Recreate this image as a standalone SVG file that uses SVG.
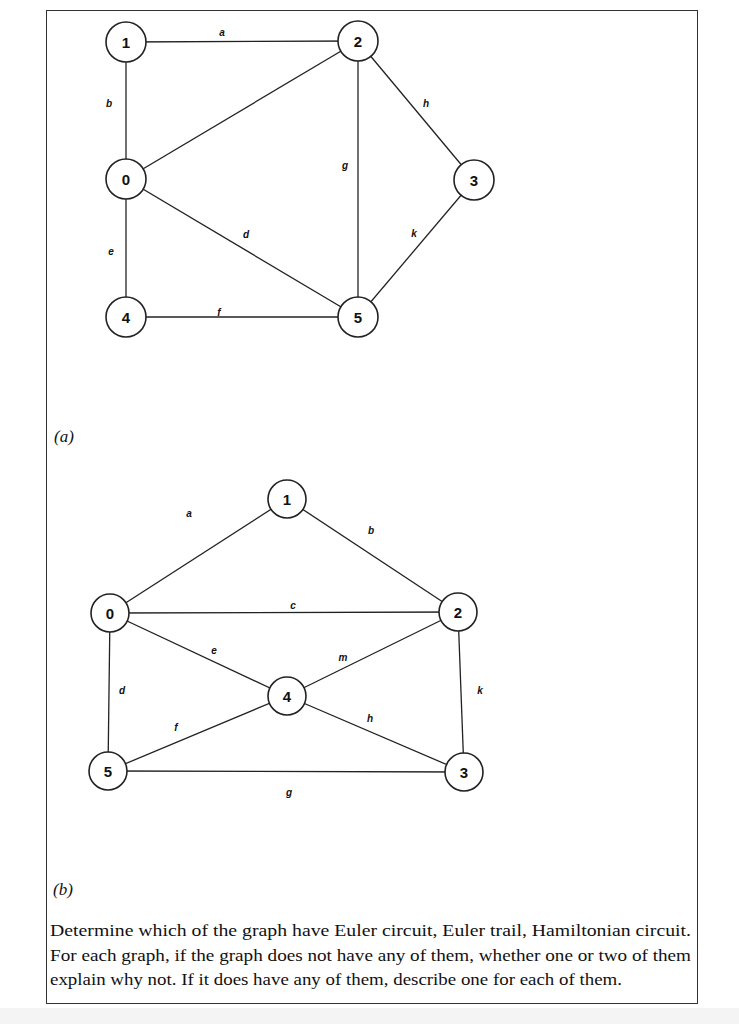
<svg xmlns="http://www.w3.org/2000/svg" width="739" height="1024" viewBox="0 0 739 1024">
<style>
.e{stroke:#222;stroke-width:1.3;fill:none}
.n circle{fill:#fff;stroke:#222;stroke-width:1.6}
.n text{font-family:"Liberation Sans",Arial,sans-serif;font-weight:bold;font-size:15px;text-anchor:middle;fill:#111}
.l{font-family:"Liberation Sans",Arial,sans-serif;font-weight:bold;font-style:italic;font-size:10px;text-anchor:middle;fill:#111}
.t{font-family:"Liberation Serif","Times New Roman",serif;font-size:17px;fill:#111}
</style>
<rect width="739" height="1024" fill="#fff"/>
<rect x="0" y="1008" width="739" height="16" fill="#f4f4f4"/>
<rect x="46.5" y="10.5" width="651" height="993" fill="none" stroke="#333" stroke-width="1"/>
<g id="connectors">
<line class="e" x1="126" y1="42" x2="358" y2="41"/>
<line class="e" x1="126" y1="42" x2="126" y2="179"/>
<line class="e" x1="126" y1="179" x2="358" y2="41"/>
<line class="e" x1="358" y1="41" x2="358" y2="317"/>
<line class="e" x1="358" y1="41" x2="474" y2="180"/>
<line class="e" x1="126" y1="179" x2="358" y2="317"/>
<line class="e" x1="126" y1="179" x2="126" y2="317"/>
<line class="e" x1="126" y1="317" x2="358" y2="317"/>
<line class="e" x1="474" y1="180" x2="358" y2="317"/>
<line class="e" x1="110" y1="613" x2="287" y2="499"/>
<line class="e" x1="287" y1="499" x2="458" y2="612"/>
<line class="e" x1="110" y1="613" x2="458" y2="612"/>
<line class="e" x1="110" y1="613" x2="287" y2="696"/>
<line class="e" x1="287" y1="696" x2="458" y2="612"/>
<line class="e" x1="110" y1="613" x2="108" y2="771"/>
<line class="e" x1="458" y1="612" x2="464" y2="772"/>
<line class="e" x1="108" y1="771" x2="287" y2="696"/>
<line class="e" x1="287" y1="696" x2="464" y2="772"/>
<line class="e" x1="108" y1="771" x2="464" y2="772"/>
<text class="l" x="222" y="36">a</text>
<text class="l" x="109" y="107">b</text>
<text class="l" x="345" y="169">g</text>
<text class="l" x="426" y="107">h</text>
<text class="l" x="246" y="238">d</text>
<text class="l" x="111" y="255">e</text>
<text class="l" x="414" y="237">k</text>
<text class="l" x="219" y="316">f</text>
<text class="l" x="189" y="517">a</text>
<text class="l" x="371" y="534">b</text>
<text class="l" x="293" y="609">c</text>
<text class="l" x="214" y="654">e</text>
<text class="l" x="343" y="661">m</text>
<text class="l" x="122" y="694">d</text>
<text class="l" x="480" y="694">k</text>
<text class="l" x="176" y="731">f</text>
<text class="l" x="370" y="722">h</text>
<text class="l" x="289" y="796">g</text>
</g>
<g id="a1" class="n"><circle cx="126" cy="42" r="20"/><text x="126" y="48">1</text></g>
<g id="a2" class="n"><circle cx="358" cy="41" r="20"/><text x="358" y="47">2</text></g>
<g id="a0" class="n"><circle cx="126" cy="179" r="20"/><text x="126" y="185">0</text></g>
<g id="a3" class="n"><circle cx="474" cy="180" r="20"/><text x="474" y="186">3</text></g>
<g id="a4" class="n"><circle cx="126" cy="317" r="20"/><text x="126" y="323">4</text></g>
<g id="a5" class="n"><circle cx="358" cy="317" r="20"/><text x="358" y="323">5</text></g>
<g id="b1" class="n"><circle cx="287" cy="499" r="19"/><text x="287" y="505">1</text></g>
<g id="b0" class="n"><circle cx="110" cy="613" r="19"/><text x="110" y="619">0</text></g>
<g id="b2" class="n"><circle cx="458" cy="612" r="19"/><text x="458" y="618">2</text></g>
<g id="b4" class="n"><circle cx="287" cy="696" r="19"/><text x="287" y="702">4</text></g>
<g id="b5" class="n"><circle cx="108" cy="771" r="19"/><text x="108" y="777">5</text></g>
<g id="b3" class="n"><circle cx="464" cy="772" r="19"/><text x="464" y="778">3</text></g>
<text class="t" x="54" y="442" font-style="italic">(<tspan>a</tspan>)</text>
<text class="t" x="53" y="895" font-style="italic">(b)</text>
<text class="t" x="50" y="936" textLength="641" lengthAdjust="spacingAndGlyphs">Determine which of the graph have Euler circuit, Euler trail, Hamiltonian circuit.</text>
<text class="t" x="50" y="961" textLength="641" lengthAdjust="spacingAndGlyphs">For each graph, if the graph does not have any of them, whether one or two of them</text>
<text class="t" x="50" y="985" textLength="572" lengthAdjust="spacingAndGlyphs">explain why not. If it does have any of them, describe one for each of them.</text>
</svg>
